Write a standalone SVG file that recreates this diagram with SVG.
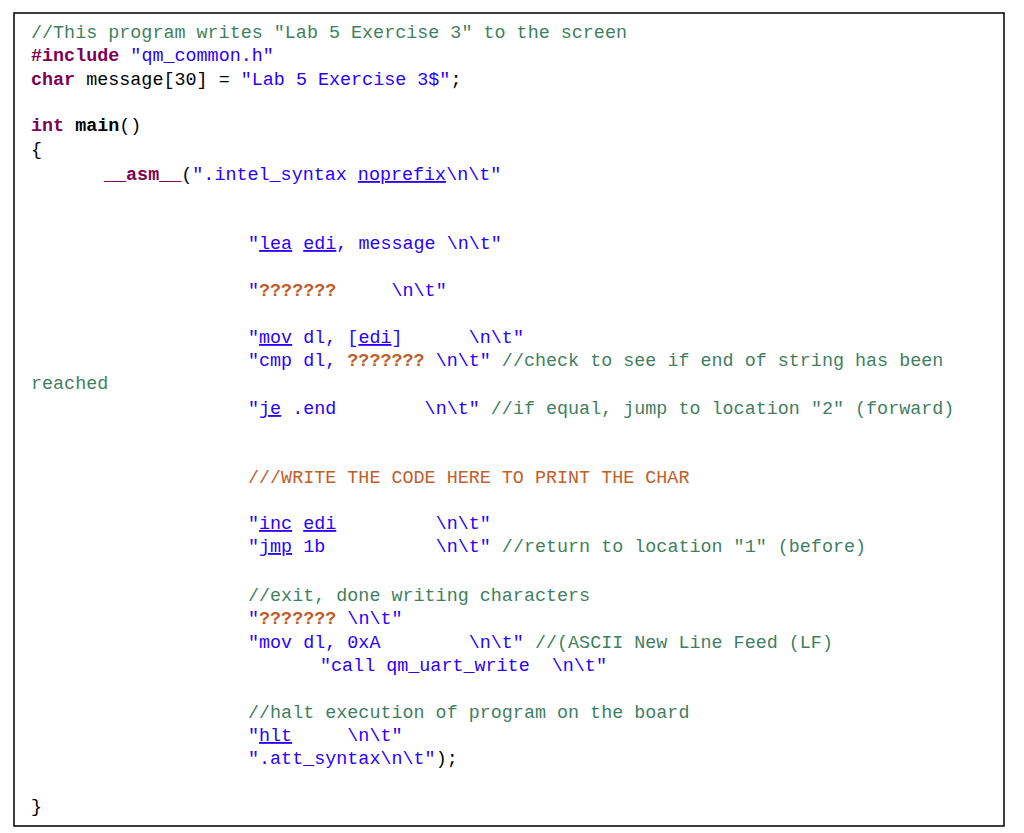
<svg xmlns="http://www.w3.org/2000/svg" width="1024" height="833" viewBox="0 0 1024 833">
<style>
text{font-family:"Liberation Mono","DejaVu Sans Mono",monospace;font-size:18.4px;fill:#000;white-space:pre}
.c{fill:#3f7f5f}.k{fill:#7f0055;font-weight:bold}.s{fill:#2a00ff}.q{fill:#c0602a;font-weight:bold}.o{fill:#c0602a}.u{text-decoration:underline}
</style>
<rect width="1024" height="833" fill="#fff"/>
<rect x="14" y="13" width="990" height="813" fill="none" stroke="#000" stroke-width="1.5"/>
<g id="code" xml:space="preserve">
<text x="31" y="38" class="c">//This program writes "Lab 5 Exercise 3" to the screen</text>
<text x="31" y="61"><tspan class="k">#include</tspan> <tspan class="s">"qm_common.h"</tspan></text>
<text x="31" y="85"><tspan class="k">char</tspan> message[30] = <tspan class="s">"Lab 5 Exercise 3$"</tspan>;</text>
<text x="31" y="131"><tspan class="k">int</tspan> <tspan font-weight="bold">main</tspan>()</text>
<text x="31" y="155">{</text>
<text x="104" y="180"><tspan class="k">__asm__</tspan>(<tspan class="s">".intel_syntax <tspan class="u">noprefix</tspan>\n\t"</tspan></text>
<text x="248" y="249" class="s">"<tspan class="u">lea</tspan> <tspan class="u">edi</tspan>, message \n\t"</text>
<text x="248" y="296" class="s">"<tspan class="q">???????</tspan>     \n\t"</text>
<text x="248" y="343" class="s">"<tspan class="u">mov</tspan> dl, [<tspan class="u">edi</tspan>]      \n\t"</text>
<text x="248" y="366"><tspan class="s">"cmp dl, <tspan class="q">???????</tspan> \n\t"</tspan> <tspan class="c">//check to see if end of string has been</tspan></text>
<text x="31" y="389" class="c">reached</text>
<text x="248" y="414"><tspan class="s">"<tspan class="u">je</tspan> .end        \n\t"</tspan> <tspan class="c">//if equal, jump to location "2" (forward)</tspan></text>
<text x="248" y="483" class="o">///WRITE THE CODE HERE TO PRINT THE CHAR</text>
<text x="248" y="529" class="s">"<tspan class="u">inc</tspan> <tspan class="u">edi</tspan>         \n\t"</text>
<text x="248" y="552"><tspan class="s">"<tspan class="u">jmp</tspan> 1b          \n\t"</tspan> <tspan class="c">//return to location "1" (before)</tspan></text>
<text x="248" y="601" class="c">//exit, done writing characters</text>
<text x="248" y="624" class="s">"<tspan class="q">???????</tspan> \n\t"</text>
<text x="248" y="648"><tspan class="s">"mov dl, 0xA        \n\t"</tspan> <tspan class="c">//(ASCII New Line Feed (LF)</tspan></text>
<text x="320" y="671" class="s">"call qm_uart_write  \n\t"</text>
<text x="248" y="718" class="c">//halt execution of program on the board</text>
<text x="248" y="741" class="s">"<tspan class="u">hlt</tspan>     \n\t"</text>
<text x="248" y="764"><tspan class="s">".att_syntax\n\t"</tspan>);</text>
<text x="31" y="812">}</text>
</g>
</svg>
